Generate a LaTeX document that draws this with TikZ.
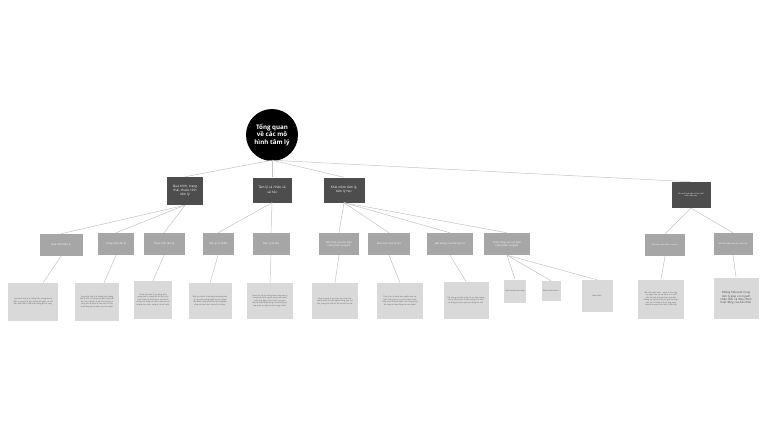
\documentclass[tikz,border=0pt]{standalone}
\usepackage{fontspec}
\setmainfont{Open Sans}
\definecolor{lonegray}{HTML}{4D4D4D}
\definecolor{ltwogray}{HTML}{A6A6A6}
\definecolor{leafgray}{HTML}{D9D9D9}
\definecolor{linegray}{HTML}{C4C4C4}
\definecolor{leaftext}{HTML}{555555}
\begin{document}
\begin{tikzpicture}[x=1pt,y=-1pt,
  rootnode/.style={circle,fill=black,text=white,inner sep=0pt,minimum size=52pt,align=center,
    font=\bfseries\fontsize{6.2}{7.8}\selectfont},
  lone/.style={fill=lonegray,text=white,inner sep=1pt,align=center,font=\fontsize{3.2}{4.1}\selectfont},
  ltwo/.style={fill=ltwogray,text=white,inner sep=1pt,align=center,minimum height=22pt,font=\fontsize{2.5}{3.2}\selectfont},
  leaf/.style={fill=leafgray,text=leaftext,inner sep=1pt,align=center,font=\fontsize{1.8}{2.5}\selectfont},
  conn/.style={draw=linegray,line width=0.5pt}]
\useasboundingbox (0,0) rectangle (768,431);
\fill[white] (0,0) rectangle (768,431);
% root
\node[rootnode] (root) at (272,135) {Tổng quan\\về các mô\\hình tâm lý};
\coordinate (rootbase) at ([yshift=1pt]root.south);
% level 1
\node[lone,minimum width=36pt,minimum height=28pt,text width=33pt] (A) at (185,191) {Quá trình, trạng\\thái, thuộc tính\\tâm lý};
\node[lone,minimum width=39pt,minimum height=25pt,text width=36pt] (B) at (272,190) {Tâm lý cá nhân và\\xã hội};
\node[lone,minimum width=41pt,minimum height=25pt,text width=38pt] (C) at (344,190) {Khái niệm tâm lý,\\tâm lý học};
\node[lone,minimum width=39pt,minimum height=26pt,text width=36pt,font=\fontsize{1.9}{2.6}\selectfont] (D) at (691,195) {Các mô hình tâm lý học phổ\\biến hiện nay};
% level 2
\node[ltwo,minimum width=43pt,text width=40pt] (a1) at (61,245) {Quá trình tâm lý};
\node[ltwo,minimum width=36pt,text width=33pt] (a2) at (116,244) {Trạng thái tâm lý};
\node[ltwo,minimum width=41pt,text width=38pt] (a3) at (164,244) {Thuộc tính tâm lý};
\node[ltwo,minimum width=31pt,text width=29pt] (b1) at (218,244) {Tâm lý cá nhân};
\node[ltwo,minimum width=37pt,text width=34pt] (b2) at (271,244) {Tâm lý xã hội};
\node[ltwo,minimum width=40pt,text width=38pt] (c1) at (339,244) {Bản chất của các hiện\\tượng tâm lý người};
\node[ltwo,minimum width=42pt,text width=40pt] (c2) at (389,244) {Khoa học tâm lý học};
\node[ltwo,minimum width=46pt,text width=43pt] (c3) at (450,244) {Đối tượng của tâm lý học};
\node[ltwo,minimum width=46pt,text width=43pt] (c4) at (507,244) {Chức năng của các hiện\\tượng tâm lý người};
\node[ltwo,minimum width=40pt,text width=38pt,font=\fontsize{1.9}{2.6}\selectfont] (d1) at (665,245) {Mô hình nhận thức – hành vi};
\node[ltwo,minimum width=39pt,text width=37pt,font=\fontsize{1.9}{2.6}\selectfont] (d2) at (733,244) {Mô hình phân tâm học hiện đại};
% leaves
\node[leaf,minimum width=50pt,minimum height=38pt,text width=46pt] (l1) at (33,302) {Quá trình tâm lý là những hiện tượng tâm lý diễn ra trong thời gian tương đối ngắn, có mở đầu, diễn biến và kết thúc tương đối rõ ràng.};
\node[leaf,minimum width=44pt,minimum height=38pt,text width=40pt] (l2) at (97,302) {Trạng thái tâm lý là những hiện tượng tâm lý diễn ra trong thời gian tương đối dài, việc mở đầu và kết thúc không rõ ràng, luôn đi kèm và làm nền cho các hoạt động tâm lý khác của con người.};
\node[leaf,minimum width=38pt,minimum height=38pt,text width=35pt] (l3) at (153,300) {Thuộc tính tâm lý là những hiện tượng tâm lý tương đối ổn định, khó hình thành và khó mất đi, tạo thành những nét riêng của nhân cách như xu hướng, tính cách, năng lực và khí chất.};
\node[leaf,minimum width=43pt,minimum height=36pt,text width=40pt] (l4) at (210,301) {Tâm lý cá nhân là những hiện tượng tâm lý nảy sinh ở từng người cụ thể, mang đặc điểm riêng, phản ánh kinh nghiệm sống và hoàn cảnh của mỗi cá nhân.};
\node[leaf,minimum width=46pt,minimum height=36pt,text width=42pt] (l5) at (270,301) {Tâm lý xã hội là những hiện tượng tâm lý chung của nhiều người trong một nhóm, một cộng đồng, hình thành qua giao tiếp và hoạt động chung, như phong tục, tập quán, dư luận và tâm trạng xã hội.};
\node[leaf,minimum width=46pt,minimum height=36pt,text width=42pt] (l6) at (335,301) {Tâm lý người là sự phản ánh hiện thực khách quan vào não người thông qua chủ thể, mang bản chất xã hội và tính lịch sử.};
\node[leaf,minimum width=46pt,minimum height=36pt,text width=40pt] (l7) at (400,301) {Tâm lý học là khoa học nghiên cứu các hiện tượng tâm lý, sự hình thành, phát triển và cơ chế vận hành của chúng trong đời sống và hoạt động của con người.};
\node[leaf,minimum width=45pt,minimum height=37pt,text width=42pt] (l8) at (466,300) {Đối tượng của tâm lý học là các hiện tượng tâm lý với tư cách là hiện tượng tinh thần do thế giới khách quan tác động vào não.};
\node[leaf,minimum width=22pt,minimum height=23pt,text width=20pt] (l9) at (515,291) {Định hướng hoạt động};
\node[leaf,minimum width=19pt,minimum height=20pt,text width=17pt] (l10) at (551,291) {Điều chỉnh hành vi};
\node[leaf,minimum width=31pt,minimum height=32pt,text width=28pt] (l11) at (597,296) {Điều khiển};
\node[leaf,minimum width=46pt,minimum height=39pt,text width=40pt] (l12) at (661,299) {Mô hình nhận thức – hành vi cho rằng suy nghĩ, cảm xúc và hành vi có mối liên hệ chặt chẽ với nhau; thay đổi những suy nghĩ sai lệch sẽ giúp cải thiện cảm xúc và hành vi, được ứng dụng rộng rãi trong trị liệu tâm lý hiện nay.};
\node[leaf,minimum width=45pt,minimum height=41pt,text width=40pt,text=black!75,font=\fontsize{2.7}{3.4}\selectfont] (l13) at (736,298) {Những hiểu biết trong tâm lý giúp con người nhận thức và điều chỉnh hoạt động của bản thân};
% connectors
\foreach \c in {A,B,C,D} \draw[conn] (rootbase) -- (\c.north);
\foreach \c in {a1,a2,a3} \draw[conn] (A.south) -- (\c.north);
\foreach \c in {b1,b2} \draw[conn] (B.south) -- (\c.north);
\foreach \c in {c1,c2,c3,c4} \draw[conn] (C.south) -- (\c.north);
\foreach \c in {d1,d2} \draw[conn] (D.south) -- (\c.north);
\draw[conn] (a1.south) -- ([xshift=10pt]l1.north);
\draw[conn] (a2.south) -- ([xshift=7pt]l2.north);
\draw[conn] (a3.south) -- (l3.north);
\draw[conn] (b1.south) -- (l4.north);
\draw[conn] (b2.south) -- (l5.north);
\draw[conn] (c1.south) -- (l6.north);
\draw[conn] (c2.south) -- (l7.north);
\draw[conn] (c3.south) -- (l8.north);
\draw[conn] (c4.south) -- (l9.north);
\draw[conn] (c4.south) -- (l10.north);
\draw[conn] (c4.south) -- (l11.north);
\draw[conn] (d1.south) -- (l12.north);
\draw[conn] (d2.south) -- (l13.north);
\end{tikzpicture}
\end{document}
